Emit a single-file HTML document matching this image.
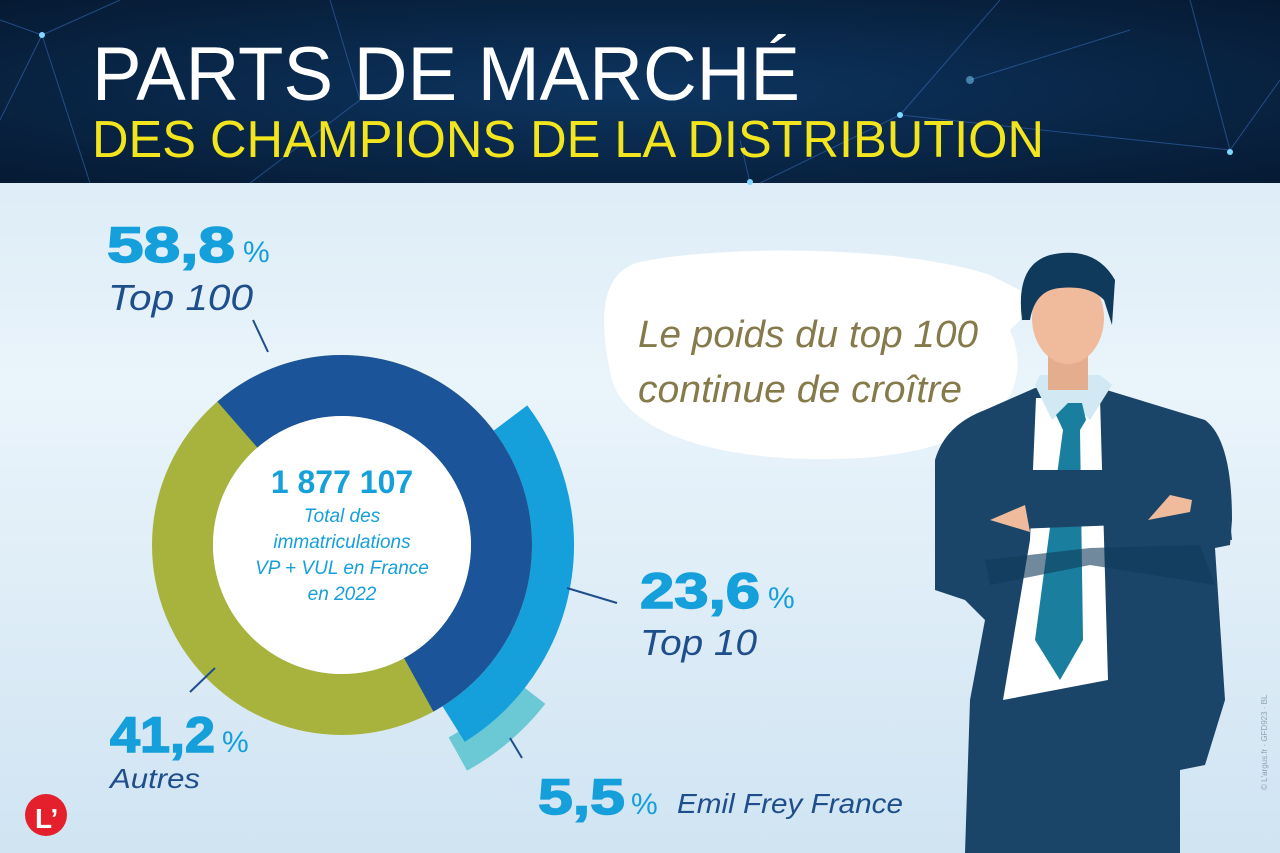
<!DOCTYPE html>
<html><head><meta charset="utf-8"><style>
html,body{margin:0;padding:0;width:1280px;height:853px;overflow:hidden;font-family:"Liberation Sans",sans-serif}
</style></head><body>
<svg width="1280" height="853" viewBox="0 0 1280 853" xmlns="http://www.w3.org/2000/svg">
<defs>
<linearGradient id="bg" x1="0" y1="0" x2="0" y2="1">
<stop offset="0" stop-color="#d2e6f3"/><stop offset="0.45" stop-color="#eaf4fb"/><stop offset="1" stop-color="#d0e4f2"/>
</linearGradient>
<radialGradient id="hd" cx="0.5" cy="0.5" r="0.7">
<stop offset="0" stop-color="#0d3560"/><stop offset="1" stop-color="#061a33"/>
</radialGradient>
</defs>
<rect x="0" y="0" width="1280" height="853" fill="url(#bg)"/>
<rect x="0" y="0" width="1280" height="183" fill="url(#hd)"/>
<g stroke="#3a6fc0" stroke-width="1" opacity="0.55">
<line x1="42" y1="35" x2="0" y2="120"/><line x1="42" y1="35" x2="120" y2="0"/><line x1="42" y1="35" x2="90" y2="183"/>
<line x1="42" y1="35" x2="0" y2="20"/><line x1="360" y1="100" x2="250" y2="183"/><line x1="360" y1="100" x2="330" y2="0"/>
<line x1="900" y1="115" x2="1000" y2="0"/><line x1="900" y1="115" x2="760" y2="183"/><line x1="900" y1="115" x2="1230" y2="150"/>
<line x1="1230" y1="150" x2="1280" y2="80"/><line x1="1230" y1="150" x2="1190" y2="0"/><line x1="970" y1="80" x2="1130" y2="30"/>
<line x1="750" y1="183" x2="740" y2="140"/>
</g>
<g fill="#7fd8ff"><circle cx="42" cy="35" r="3"/><circle cx="900" cy="115" r="3"/><circle cx="1230" cy="152" r="3"/><circle cx="970" cy="80" r="4" opacity=".5"/><circle cx="750" cy="182" r="3"/></g>
<text x="92" y="100" fill="#fff" font-size="76" textLength="708" lengthAdjust="spacingAndGlyphs">PARTS DE MARCHÉ</text>
<text x="92" y="157" fill="#f2e51e" font-size="52" textLength="952" lengthAdjust="spacingAndGlyphs">DES CHAMPIONS DE LA DISTRIBUTION</text>

<circle cx="342" cy="545" r="159.5" fill="none" stroke="#a8b33e" stroke-width="61"/>
<circle cx="342" cy="545" r="239" fill="none" stroke="#6ac9d5" stroke-width="38" stroke-dasharray="96 2000" transform="rotate(38 342 545)"/>
<circle cx="342" cy="545" r="211" fill="none" stroke="#159fdb" stroke-width="42" stroke-dasharray="350 2000" transform="rotate(-37 342 545)"/>
<circle cx="342" cy="545" r="159.5" fill="none" stroke="#1b5499" stroke-width="61" stroke-dasharray="535 2000" transform="rotate(-131 342 545)"/>
<circle cx="342" cy="545" r="129" fill="#fff"/>
<text x="342" y="493" text-anchor="middle" fill="#159fdb" font-size="32" font-weight="bold">1 877 107</text>
<g fill="#159fdb" font-size="19" font-style="italic" text-anchor="middle">
<text x="342" y="522">Total des</text><text x="342" y="548">immatriculations</text><text x="342" y="574">VP + VUL en France</text><text x="342" y="600">en 2022</text></g>

<g stroke="#1f4e8c" stroke-width="2">
<line x1="253" y1="320" x2="268" y2="352"/><line x1="567" y1="588" x2="617" y2="603"/>
<line x1="190" y1="692" x2="215" y2="668"/><line x1="510" y1="738" x2="522" y2="758"/></g>

<g fill="#159fdb" font-weight="bold" stroke="#159fdb" stroke-width="1.5">
<text x="107" y="262" font-size="50" textLength="128" lengthAdjust="spacingAndGlyphs">58,8</text>
<text x="640" y="608" font-size="50" textLength="120" lengthAdjust="spacingAndGlyphs">23,6</text>
<text x="110" y="752" font-size="50" textLength="105" lengthAdjust="spacingAndGlyphs">41,2</text>
<text x="538" y="814" font-size="50" textLength="87" lengthAdjust="spacingAndGlyphs">5,5</text>
</g>
<g fill="#159fdb" font-size="30">
<text x="243" y="262">%</text><text x="768" y="608">%</text><text x="222" y="752">%</text><text x="631" y="814">%</text>
</g>
<g fill="#1f4e8c" font-style="italic">
<text x="108" y="310" font-size="36" textLength="145" lengthAdjust="spacingAndGlyphs">Top 100</text>
<text x="640" y="655" font-size="36" textLength="117" lengthAdjust="spacingAndGlyphs">Top 10</text>
<text x="110" y="788" font-size="28" textLength="90" lengthAdjust="spacingAndGlyphs">Autres</text>
<text x="677" y="813" font-size="28" textLength="226" lengthAdjust="spacingAndGlyphs">Emil Frey France</text>
</g>

<path d="M640,262 C720,245 900,245 990,275 L1040,300 L1010,330 C1040,400 980,450 860,458 C740,465 630,440 612,380 C598,320 600,272 640,262 Z" fill="#fff"/>
<g fill="#857a4a" font-style="italic" font-size="38">
<text x="638" y="347" textLength="340" lengthAdjust="spacingAndGlyphs">Le poids du top 100</text><text x="638" y="402" textLength="324" lengthAdjust="spacingAndGlyphs">continue de croître</text></g>

<path d="M965,853 L970,700 L985,620 L965,600 L935,590 L935,460 Q945,425 985,410 L1035,388 L1100,388 L1205,420 Q1232,440 1232,520 L1230,545 L1215,548 L1225,700 L1205,765 L1180,770 L1180,853 Z" fill="#1a4568"/>
<path d="M1036,398 L1100,398 L1108,680 L1003,700 L1030,540 Z" fill="#fff"/>
<path d="M1035,385 L1052,420 L1066,408 L1078,408 L1090,420 L1112,385 L1100,375 L1040,375 Z" fill="#d2e8f2"/>
<path d="M1056,415 L1068,403 L1082,403 L1086,420 L1080,430 L1083,640 L1060,680 L1035,640 L1063,430 Z" fill="#1a7f9e"/>
<path d="M935,560 L960,470 L1225,470 L1232,540 L1120,525 L990,530 L935,590 Z" fill="#1a4568"/>
<path d="M990,520 L1025,505 L1030,532 Z" fill="#efbb9c"/>
<path d="M1148,520 L1170,495 L1192,500 L1190,512 Z" fill="#efbb9c"/>
<path d="M985,560 L1090,548 L1200,545 L1215,585 L1090,565 L990,585 Z" fill="#103a5a" opacity=".6"/>
<rect x="1048" y="340" width="40" height="50" fill="#e3ad8e"/>
<ellipse cx="1068" cy="318" rx="36" ry="46" fill="#efbb9c"/>
<path d="M1022,320 Q1015,265 1050,255 Q1095,245 1115,280 L1112,325 L1104,300 Q1090,285 1060,288 Q1035,290 1030,320 Z" fill="#0f3a5c"/>
<text transform="translate(1267,790) rotate(-90)" font-size="8" fill="#8fa3b5">© L'argus.fr · GFD923 · BL</text>

<circle cx="46" cy="815" r="21" fill="#e3202b"/>
<text x="35" y="828" fill="#fff" font-size="28" font-weight="bold">L’</text>
</svg>
</body></html>
